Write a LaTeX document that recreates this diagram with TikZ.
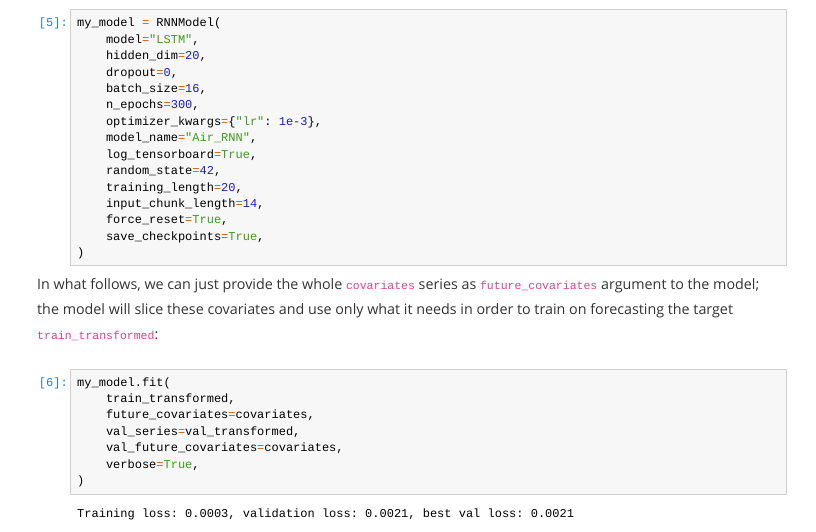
\documentclass[tikz,border=0pt]{standalone}
\usepackage{fontspec}
\setmainfont{Open Sans}
\setmonofont{Liberation Mono}
\definecolor{pr}{HTML}{307FC1}
\definecolor{st}{HTML}{3F9B1F}
\definecolor{nm}{HTML}{1A1AC8}
\definecolor{op}{HTML}{CE5C00}
\definecolor{tx}{HTML}{333333}
\definecolor{ic}{HTML}{E83E8C}
\definecolor{bx}{HTML}{F7F7F7}
\definecolor{bd}{HTML}{CFCFCF}
\newcommand{\cS}[1]{\textcolor{st}{#1}}
\newcommand{\cN}[1]{\textcolor{nm}{#1}}
\newcommand{\cE}{\textcolor{op}{=}}
\newcommand{\cC}[1]{{\ttfamily\fontsize{11.5}{13}\selectfont\textcolor{ic}{#1}}}
\tikzset{
 cell/.style={draw=bd,fill=bx,line width=0.8pt},
 code/.style={anchor=base west,inner sep=0,font=\ttfamily\fontsize{12}{14}\selectfont,text=black},
 prompt/.style={anchor=base east,inner sep=0,font=\ttfamily\fontsize{12}{14}\selectfont,text=pr},
 para/.style={anchor=base west,inner sep=0,font=\fontsize{14.3}{16}\selectfont,text=tx}
}
\begin{document}
\begin{tikzpicture}[x=1pt,y=-1pt]
\useasboundingbox (0,0) rectangle (816,532);
\fill[white] (0,0) rectangle (816,532);
\draw[cell] (70,9) rectangle (786,265);
\node[prompt] (p5) at (68,27) {[5]:};
\foreach \t [count=\i from 0] in {
 {my\_model \cE{} RNNModel(},
 {\ \ \ \ model\cE\cS{"LSTM"},},
 {\ \ \ \ hidden\_dim\cE\cN{20},},
 {\ \ \ \ dropout\cE\cN{0},},
 {\ \ \ \ batch\_size\cE\cN{16},},
 {\ \ \ \ n\_epochs\cE\cN{300},},
 {\ \ \ \ optimizer\_kwargs\cE\{\cS{"lr"}: \cN{1e-3}\},},
 {\ \ \ \ model\_name\cE\cS{"Air\_RNN"},},
 {\ \ \ \ log\_tensorboard\cE\cS{True},},
 {\ \ \ \ random\_state\cE\cN{42},},
 {\ \ \ \ training\_length\cE\cN{20},},
 {\ \ \ \ input\_chunk\_length\cE\cN{14},},
 {\ \ \ \ force\_reset\cE\cS{True},},
 {\ \ \ \ save\_checkpoints\cE\cS{True},},
 {)}}
 \node[code] (a\i) at (77,27+16.4*\i) {\t};
\node[para] (t1) at (37,289) {In what follows, we can just provide the whole \cC{covariates} series as \cC{future\_covariates} argument to the model;};
\node[para] (t2) at (37,314) {the model will slice these covariates and use only what it needs in order to train on forecasting the target};
\node[para] (t3) at (37,339) {\cC{train\_transformed}:};
\draw[cell] (70,369) rectangle (786,494);
\node[prompt] (p6) at (68,386) {[6]:};
\foreach \t [count=\i from 0] in {
 {my\_model.fit(},
 {\ \ \ \ train\_transformed,},
 {\ \ \ \ future\_covariates\cE{}covariates,},
 {\ \ \ \ val\_series\cE{}val\_transformed,},
 {\ \ \ \ val\_future\_covariates\cE{}covariates,},
 {\ \ \ \ verbose\cE\cS{True},},
 {)}}
 \node[code] (b\i) at (77,386+16.4*\i) {\t};
\node[code] (out) at (77,517) {Training loss: 0.0003, validation loss: 0.0021, best val loss: 0.0021};
\end{tikzpicture}
\end{document}
